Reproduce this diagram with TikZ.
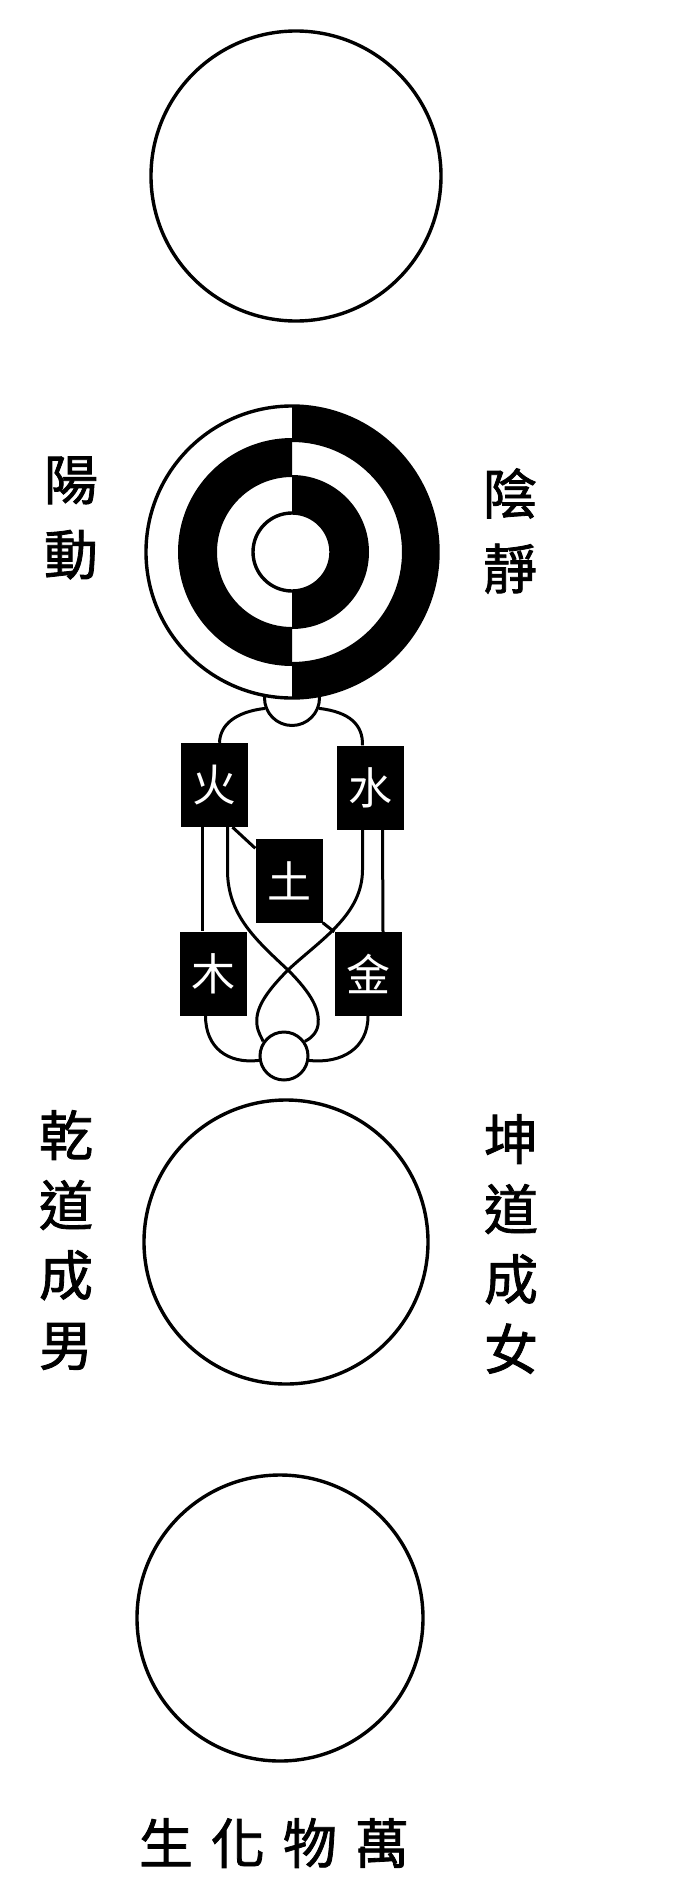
\documentclass[tikz,border=0pt]{standalone}
\usepackage{fontspec}
\newfontfamily\cjk{Noto Sans CJK TC}[FakeBold=1.5]
\newfontfamily\cjklight{Noto Sans CJK TC}
\tikzset{%
  element/.style={rectangle, fill=black, text=white, inner sep=0pt,
                  minimum width=67pt, minimum height=84pt,
                  font=\cjklight\fontsize{44}{44}\selectfont},
  link/.style={line width=3pt},
  knot/.style={circle, draw, fill=white, line width=3pt, inner sep=0pt},
  ring/.style={line width=3.4pt},
  vlabel/.style={align=center, inner sep=0pt, font=\cjk\fontsize{54}{75}\selectfont},
}
\begin{document}
\begin{tikzpicture}[x=1pt,y=-1pt]
  \useasboundingbox (0,0) rectangle (690,1903);
  \fill[white] (0,0) rectangle (690,1903);
  \draw[ring] (296,176) circle (145);
  \coordinate (T) at (292,552);
  \node[knot, minimum size=55pt] (cup) at (292,698) {};
  \fill[white] (T) circle (146);
  \fill (292,666) arc[start angle=90,end angle=270,radius=114] -- (292,477)
        arc[start angle=270,end angle=90,radius=75] -- cycle;
  \fill (292,406) arc[start angle=-90,end angle=90,radius=146] -- (292,662)
        arc[start angle=90,end angle=-90,radius=110] -- cycle;
  \fill (292,475) arc[start angle=-90,end angle=90,radius=77] -- (292,591)
        arc[start angle=90,end angle=-90,radius=39] -- cycle;
  \draw[ring] (T) circle (146) (T) circle (39);
  \node[vlabel] (yang) at (71,518) {陽\\動};
  \node[vlabel] (yin) at (510,531) {陰\\靜};
  \node[element] (fire) at (214.5,785) {火};
  \node[element] (water) at (370.5,787.5) {水};
  \node[element] (earth) at (289,880.5) {土};
  \node[element] (wood) at (213.5,973.5) {木};
  \node[element] (metal) at (368,974) {金};
  \node[knot, minimum size=48pt] (dot) at (284,1056) {};
  \coordinate (cross) at (288,970);
  \draw[link] (cup.201) .. controls (235,712) and (220,725) .. ([xshift=5pt]fire.north);
  \draw[link] (cup.-21) .. controls (350,712) and (363,725) .. ([xshift=-8pt]water.north);
  \draw[link] ([xshift=-12pt]fire.south) -- ([xshift=-11pt]wood.north);
  \draw[link] ([xshift=12pt]water.south) -- ([xshift=15pt]metal.north);
  \draw[link] ([xshift=18pt]fire.south) -- ([yshift=-10pt]earth.north west);
  \draw[link] (earth.south east) -- (metal.north west);
  \draw[link] ([xshift=13pt]fire.south) -- ++(0,43) .. controls (227.5,915) and (256,940) .. (cross)
        .. controls (312,994) and (320,1010) .. (318,1025) .. controls (317,1033) and (310,1039) .. (dot.35);
  \draw[link] ([xshift=-8pt]water.south) -- ++(0,40) .. controls (362.5,915) and (320,940) .. (cross)
        .. controls (264,994) and (255,1010) .. (257,1025) .. controls (258,1033) and (262,1038) .. (dot.145);
  \draw[link] ([xshift=-8pt]wood.south) .. controls (205.5,1048) and (228,1064) .. (dot.190);
  \draw[link] (metal.south) .. controls (368,1048) and (342,1064) .. (dot.-10);
  \draw[ring] (286,1242) circle (142);
  \node[vlabel, font=\cjk\fontsize{54}{70}\selectfont] (qian) at (66,1240) {乾\\道\\成\\男};
  \node[vlabel, font=\cjk\fontsize{54}{70}\selectfont] (kun) at (511,1244) {坤\\道\\成\\女};
  \draw[ring] (280,1618) circle (143);
  \node[vlabel] (wanwu) at (274,1843) {生\hspace{18pt}化\hspace{18pt}物\hspace{18pt}萬};
\end{tikzpicture}
\end{document}
